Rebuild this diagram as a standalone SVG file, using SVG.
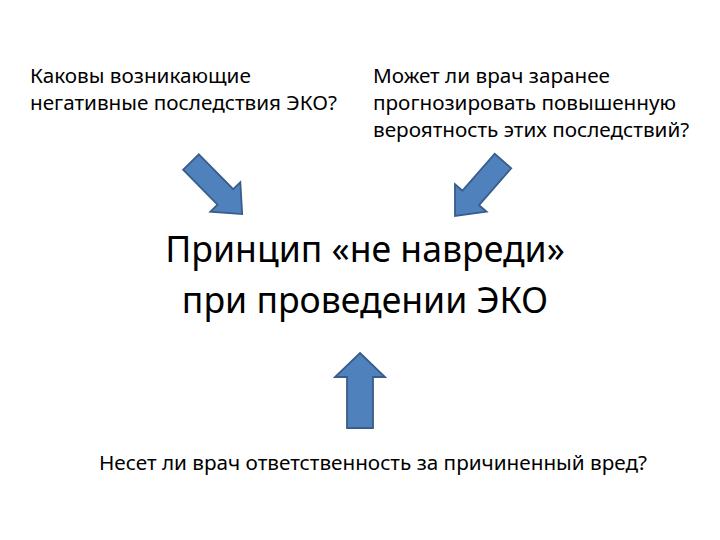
<svg xmlns="http://www.w3.org/2000/svg" width="720" height="540" viewBox="0 0 720 540">
<style>
.t{font-family:"Noto Sans","Liberation Sans",sans-serif;fill:#000}
.s{font-size:20.7px}
.b{font-size:35.6px}
.arr{fill:#4F81BD;stroke:#385D8A;stroke-width:1.8;stroke-linejoin:miter}
</style>
<rect width="720" height="540" fill="#fff"/>
<g id="q1"><text class="t s" x="30" y="83">Каковы возникающие</text><text class="t s" x="30" y="110">негативные последствия ЭКО?</text></g>
<g id="q2"><text class="t s" x="373" y="83">Может ли врач заранее</text><text class="t s" x="373" y="110">прогнозировать повышенную</text><text class="t s" x="373" y="137">вероятность этих последствий?</text></g>
<g id="center"><text class="t b" x="365" y="262" text-anchor="middle">Принцип «не навреди»</text><text class="t b" x="365" y="313" text-anchor="middle">при проведении ЭКО</text></g>
<g id="q3"><text class="t s" x="373" y="470" text-anchor="middle">Несет ли врач ответственность за причиненный вред?</text></g>
<g id="connectors">
<polygon class="arr" transform="translate(191,162) rotate(45.5)" points="0,-11 49,-11 49,-21 73,0 49,21 49,11 0,11"/>
<polygon class="arr" transform="translate(503,161) rotate(131.1)" points="0,-11 49,-11 49,-21 73,0 49,21 49,11 0,11"/>
<polygon class="arr" points="360,353 385,377 373,377 373,428 347,428 347,377 335,377"/>
</g>
</svg>
